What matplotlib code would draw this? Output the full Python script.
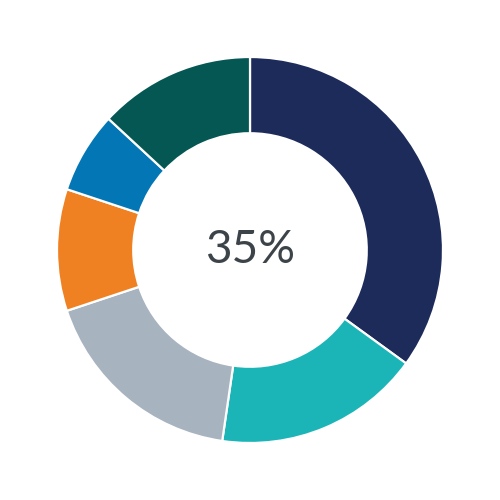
import matplotlib.pyplot as plt

labels = ["Navy", "Teal", "Gray", "Orange", "Blue", "Green"]
values = [35, 17.3, 17.6, 10.2, 6.8, 13.1]
colors = ["#1c2b5a", "#1bb5b8", "#a8b3c0", "#f08122", "#0377b6", "#045753"]
center_text = "35%"

fig = plt.figure(figsize=(5, 5), dpi=100)
ax = fig.add_axes([0, 0, 1, 1])

ax.pie(values, colors=colors, startangle=90, counterclock=False,
       wedgeprops=dict(width=0.395, edgecolor="white", linewidth=1.6))
ax.text(0, 0, center_text, ha="center", va="center", fontsize=33,
        color="#3d4449", family=["Lato", "DejaVu Sans"])

lim = 250 / 193
ax.set_xlim(-lim, lim)
ax.set_ylim(-lim, lim)
ax.set_aspect("equal")
ax.axis("off")

fig.savefig("out.png", dpi=100, facecolor="white")
